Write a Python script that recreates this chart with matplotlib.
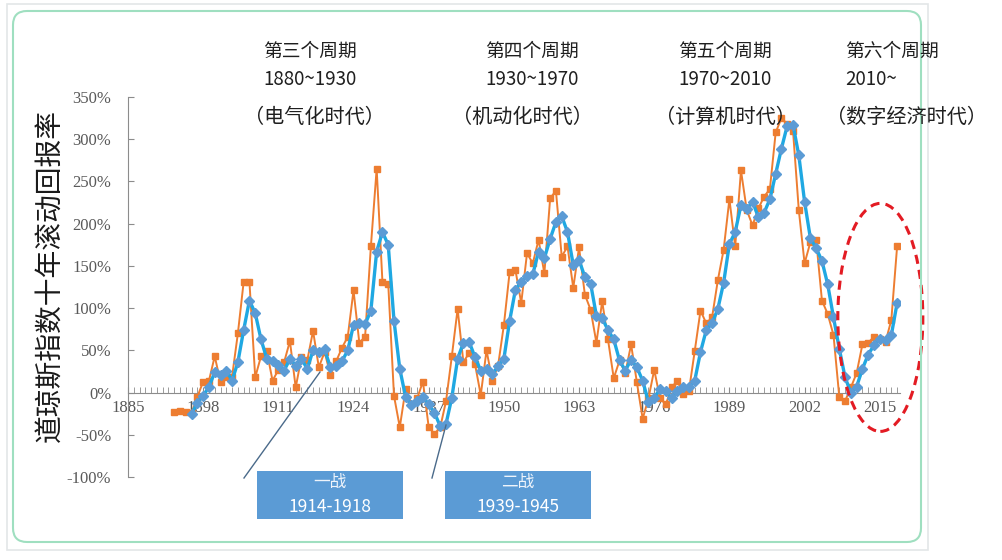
import numpy as np
import matplotlib
matplotlib.use("Agg")
from matplotlib import pyplot as plt
from matplotlib.patches import Rectangle, FancyBboxPatch, Ellipse
from matplotlib.lines import Line2D
from matplotlib.transforms import IdentityTransform
from matplotlib.ticker import MultipleLocator, FixedLocator, FuncFormatter

plt.rcParams['font.family'] = ['Noto Sans CJK SC', 'DejaVu Sans']

# 年度数据 (%)
orange_start = 1893
orange_vals = [
    -23, -22, -23, -24, -5, 13, 14, 43, 12, 19,          # 1893-1902
    19, 70, 131, 131, 18, 43, 49, 14, 27, 36,            # 1903-1912
    61, 6, 42, 38, 73, 30, 48, 21, 37, 53,               # 1913-1922
    66, 121, 59, 66, 173, 265, 131, 129, -4, -41,        # 1923-1932
    4, -13, -7, 13, -41, -49, -41, -10, 43, 99,          # 1933-1942
    36, 47, 34, -3, 50, 14, 32, 80, 143, 145,            # 1943-1952
    106, 165, 153, 181, 141, 230, 239, 161, 173, 124,    # 1953-1962
    172, 116, 98, 59, 108, 63, 17, 38, 23, 57,           # 1963-1972
    12, -31, -7, 27, -7, -14, 6, 14, -2, 2,              # 1973-1982
    49, 97, 82, 89, 133, 169, 229, 173, 263, 216,        # 1983-1992
    198, 218, 232, 241, 308, 325, 318, 310, 216, 153,    # 1993-2002
    178, 181, 109, 93, 68, -5, -10, 6, 23, 57,           # 2003-2012
    59, 66, 63, 60, 86, 173,                             # 2013-2018
]

blue_start = 1896
blue_vals = [
    -25, -12, -4, 7, 24, 21, 26, 14, 36, 74,             # 1896-1905
    109, 94, 63, 40, 37, 33, 26, 40, 32, 40,             # 1906-1915
    28, 50, 48, 51, 30, 31, 37, 50, 80, 82,              # 1916-1925
    81, 97, 167, 190, 175, 85, 28, -5, -15, -10,         # 1926-1935
    -5, -14, -24, -40, -37, -6, 40, 59, 60, 42,          # 1936-1945
    26, 28, 22, 31, 40, 85, 122, 131, 138, 140,          # 1946-1955
    167, 159, 182, 202, 209, 190, 151, 157, 137, 129,    # 1956-1965
    91, 88, 74, 63, 38, 26, 39, 30, 14, -11,             # 1966-1975
    -6, 4, 2, -7, 2, 6, 6, 14, 48, 74,                   # 1976-1985
    82, 99, 130, 176, 190, 222, 217, 226, 208, 213,      # 1986-1995
    229, 259, 289, 316, 317, 281, 226, 183, 171, 156,    # 1996-2005
    128, 89, 52, 18, 0, 7, 28, 45, 56, 63,               # 2006-2015
    62, 68, 106,                                         # 2016-2018
]

tick_years = [1885, 1898, 1911, 1924, 1937, 1950, 1963, 1976, 1989, 2002, 2015]

cycles = [
    ("第三个周期", "1880~1930", "（电气化时代）", 263, 244),
    ("第四个周期", "1930~1970", "（机动化时代）", 485, 452),
    ("第五个周期", "1970~2010", "（计算机时代）", 678, 655),
    ("第六个周期", "2010~", "（数字经济时代）", 845, 826),
]

wars = [("一战", "1914-1918", 257), ("二战", "1939-1945", 445)]

W, H = 1002, 560


def fx(x):
    return x / W


def fy(y):
    return (H - y) / H


fig = plt.figure(figsize=(W / 100, H / 100), dpi=100)
fig.patch.set_facecolor('white')

# 外框
fig.patches.append(Rectangle((7, H - 550), 921, 546, transform=IdentityTransform(),
                             fill=False, ec='#e3e6e8', lw=1.2))
fig.patches.append(FancyBboxPatch((13, H - 542), 908, 531, transform=IdentityTransform(),
                                  boxstyle='round,pad=0,rounding_size=14',
                                  fill=False, ec='#9fdfc0', lw=1.5))

ax = fig.add_axes([fx(128), fy(477), (900 - 128) / W, 380 / H])
ax.set_facecolor('none')

oy = np.arange(orange_start, orange_start + len(orange_vals))
by = np.arange(blue_start, blue_start + len(blue_vals))

ax.plot(oy, orange_vals, color='#ed7d31', lw=1.4, marker='s', ms=4.6,
        mfc='#ed7d31', mec='#ed7d31', zorder=3)
ax.plot(by, blue_vals, color='#1fa8e2', lw=2.4, marker='D', ms=4.6,
        mfc='#5b9bd5', mec='#5b9bd5', zorder=4)

ax.set_xlim(1885, 2018.5)
ax.set_ylim(-100, 350)

for s in ['top', 'right']:
    ax.spines[s].set_visible(False)
ax.spines['bottom'].set_position(('data', 0))
ax.spines['bottom'].set_color('#8c8c8c')
ax.spines['left'].set_color('#8c8c8c')

ax.yaxis.set_major_locator(MultipleLocator(50))
ax.yaxis.set_major_formatter(FuncFormatter(lambda v, p: f"{int(v)}%"))
ax.xaxis.set_major_locator(FixedLocator(tick_years))
ax.xaxis.set_minor_locator(MultipleLocator(1))
ax.tick_params(axis='y', direction='in', length=4, color='#8c8c8c', pad=12,
               labelsize=12, labelcolor='#595959')
ax.tick_params(axis='x', which='both', direction='in', length=4, color='#8c8c8c',
               pad=5, labelsize=12, labelcolor='#595959')
for lab in ax.get_xticklabels() + ax.get_yticklabels():
    lab.set_family('Liberation Serif')

# 红色虚线椭圆
ax.add_patch(Ellipse((2015.1, 89), 14.7, 270, fill=False, ec='#e31b23',
                     lw=2.2, ls=(0, (3, 2)), clip_on=False, zorder=5))

# 纵轴标题
fig.text(fx(50), fy(275), "道琼斯指数十年滚动回报率", rotation=90, ha='center',
         va='center', fontsize=20, color='#1a1a1a')

# 周期标注
for name, span, era, x0, xe in cycles:
    fig.text(fx(x0), fy(51), name, ha='left', va='center', fontsize=13.5, color='#1f1f1f')
    fig.text(fx(x0), fy(79), span, ha='left', va='center', fontsize=13.5, color='#1f1f1f')
    fig.text(fx(xe), fy(117), era, ha='left', va='center', fontsize=14.5, color='#1f1f1f')

# 战争标注
for name, span, x0 in wars:
    fig.patches.append(Rectangle((fx(x0), fy(519)), 146 / W, 48 / H,
                                 transform=fig.transFigure, fc='#5b9bd5', ec='none'))
    cx = x0 + 73
    fig.text(fx(cx), fy(482), name, ha='center', va='center', fontsize=12, color='#eef4fb')
    fig.text(fx(cx), fy(507), span, ha='center', va='center', fontsize=12.5, color='white')

fig.lines.append(Line2D([fx(244), fx(320)], [fy(478), fy(372)], transform=fig.transFigure,
                        color='#4a6a8a', lw=1))
fig.lines.append(Line2D([fx(432), fx(446)], [fy(478), fy(425)], transform=fig.transFigure,
                        color='#4a6a8a', lw=1))

fig.savefig('out.png', dpi=100)
